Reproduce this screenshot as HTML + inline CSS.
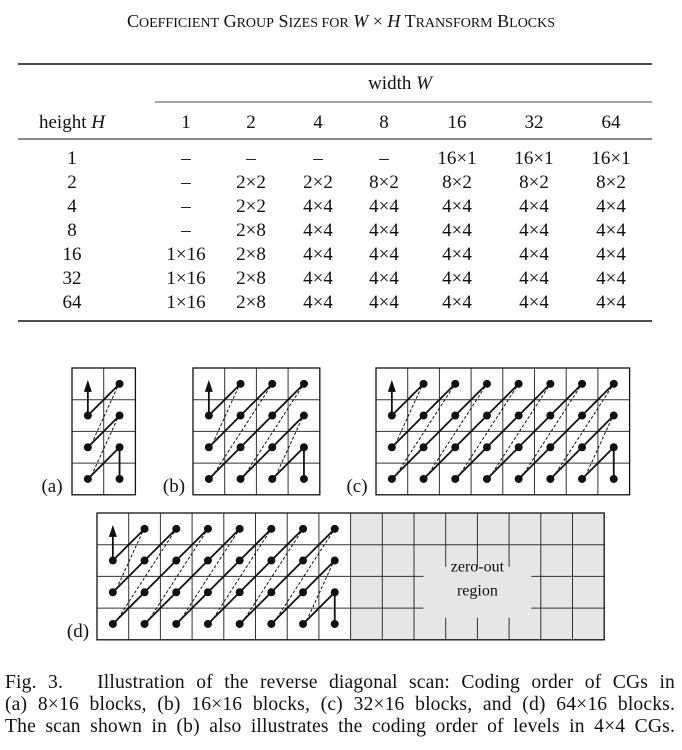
<!DOCTYPE html>
<html><head><meta charset="utf-8">
<style>
body{margin:0;background:#fff;width:682px;height:750px;overflow:hidden;font-family:"Liberation Serif",serif;}
svg{position:absolute;left:0;top:0}
.cap{position:absolute;left:5px;top:672px;width:670px;font-size:19.6px;line-height:22px;color:#111;white-space:nowrap;letter-spacing:0.15px}
.cap div{text-align:justify;text-align-last:justify;white-space:normal}
</style></head><body>
<svg id="s" width="682" height="750" font-family="Liberation Serif, serif" fill="#111">
<text x="341" y="27" text-anchor="middle" font-size="18">C<tspan font-size="14">OEFFICIENT</tspan> G<tspan font-size="14">ROUP</tspan> S<tspan font-size="14">IZES FOR</tspan> <tspan font-style="italic">W</tspan> × <tspan font-style="italic">H</tspan> T<tspan font-size="14">RANSFORM</tspan> B<tspan font-size="14">LOCKS</tspan></text>
<line x1="18" y1="64" x2="652" y2="64" stroke="#111" stroke-width="1.6"/>
<text x="400" y="89" text-anchor="middle" font-size="19">width <tspan font-style="italic">W</tspan></text>
<line x1="155" y1="102" x2="652" y2="102" stroke="#111" stroke-width="0.8"/>
<text x="72" y="128" text-anchor="middle" font-size="19">height <tspan font-style="italic">H</tspan></text>
<line x1="18" y1="139" x2="652" y2="139" stroke="#111" stroke-width="1"/>
<line x1="18" y1="321" x2="652" y2="321" stroke="#111" stroke-width="1.6"/>
<g id="tbl"></g>
<g id="figs"></g>
</svg>
<div class="cap">
<div>Fig. 3.&nbsp;&nbsp; Illustration of the reverse diagonal scan: Coding order of CGs in</div>
<div>(a) 8×16 blocks, (b) 16×16 blocks, (c) 32×16 blocks, and (d) 64×16 blocks.</div>
<div>The scan shown in (b) also illustrates the coding order of levels in 4×4 CGs.</div>
</div>
<script>
const widths=["1","2","4","8","16","32","64"];
const heights=["1","2","4","8","16","32","64"];
const cells=[
["–","–","–","–","16×1","16×1","16×1"],
["–","2×2","2×2","8×2","8×2","8×2","8×2"],
["–","2×2","4×4","4×4","4×4","4×4","4×4"],
["–","2×8","4×4","4×4","4×4","4×4","4×4"],
["1×16","2×8","4×4","4×4","4×4","4×4","4×4"],
["1×16","2×8","4×4","4×4","4×4","4×4","4×4"],
["1×16","2×8","4×4","4×4","4×4","4×4","4×4"]];
const NS="http://www.w3.org/2000/svg";
const colX=[186,251,318,384,457,534,611];
function T(p,x,y,s,name){const t=document.createElementNS(NS,'text');t.setAttribute('x',x);t.setAttribute('y',y);t.setAttribute('text-anchor','middle');t.setAttribute('font-size',19);t.textContent=s;


p.appendChild(t);return t;}
const tb=document.getElementById('tbl');
widths.forEach((w,i)=>T(tb,colX[i],128,w,'width-label'));
heights.forEach((h,r)=>{const y=164+r*24;T(tb,72,y,h,'height-label');
cells[r].forEach((c,i)=>T(tb,colX[i],y,c,'cg-size-cell'));});

const figs=[{l:"(a)",x:72,y:368,c:2,lx:52,ly:492},{l:"(b)",x:193,y:368,c:4,lx:174,ly:492},{l:"(c)",x:376,y:368,c:8,lx:357,ly:492},{l:"(d)",x:97,y:513,c:8,z:8,lx:78,ly:637}];
const g=document.getElementById('figs');
function el(tag,a,p){const e=document.createElementNS(NS,tag);for(const k in a)e.setAttribute(k,a[k]);(p||g).appendChild(e);return e;}
figs.forEach(f=>{
 const cs=31.7,R=4;const tot=f.c+(f.z||0);
 const grp=el('g',{});
 
 
 if(f.z){el('rect',{x:f.x+f.c*cs,y:f.y,width:f.z*cs,height:4*cs,fill:'#e6e6e6'},grp);}
 for(let i=1;i<tot;i++)el('line',{x1:f.x+i*cs,y1:f.y,x2:f.x+i*cs,y2:f.y+4*cs,stroke:'#333','stroke-width':1},grp);
 for(let j=1;j<4;j++)el('line',{x1:f.x,y1:f.y+j*cs,x2:f.x+tot*cs,y2:f.y+j*cs,stroke:'#333','stroke-width':1},grp);
 if(f.z){const zx=f.x+f.c*cs+2.3*cs;el('rect',{x:zx,y:f.y+1.7*cs,width:3.4*cs,height:1.6*cs,fill:'#e6e6e6'},grp);
  const t1=T(grp,f.x+(f.c+f.z/2)*cs,f.y+1.85*cs,'zero-out','zero-out-label');t1.setAttribute('font-size',16);
  const t2=T(grp,f.x+(f.c+f.z/2)*cs,f.y+2.6*cs,'region','zero-out-label');t2.setAttribute('font-size',16);}
 el('rect',{x:f.x,y:f.y,width:tot*cs,height:4*cs,fill:'none',stroke:'#111','stroke-width':1.3},grp);
 const P=(x,y)=>[f.x+(x+0.5)*cs,f.y+(y+0.5)*cs];
 const ord=[];
 for(let d=0;d<f.c+3;d++)for(let y=Math.min(d,3);y>=0;y--){const x=d-y;if(x<f.c)ord.push([x,y,d]);}
 for(let k=1;k<ord.length;k++){const a=P(ord[k-1][0],ord[k-1][1]),b=P(ord[k][0],ord[k][1]);
  const same=ord[k-1][2]==ord[k][2];const first=k==1,last=k==ord.length-1;
  if(first){el('line',{x1:b[0],y1:b[1],x2:a[0],y2:a[1]+7,stroke:'#111','stroke-width':1.8},grp);
   el('polygon',{points:`${a[0]-4},${a[1]+8} ${a[0]+4},${a[1]+8} ${a[0]},${a[1]-4}`,fill:'#111'},grp);}
  else if(same||last)el('line',{x1:a[0],y1:a[1],x2:b[0],y2:b[1],stroke:'#111','stroke-width':1.8},grp);
  else el('line',{x1:a[0]-2,y1:a[1]+3,x2:b[0]+3,y2:b[1]-2,stroke:'#111','stroke-width':1,'stroke-dasharray':'3,2'},grp);}
 ord.slice(1).forEach(o=>{const p=P(o[0],o[1]);el('circle',{cx:p[0],cy:p[1],r:R,fill:'#111'},grp);});
 const lt=T(grp,f.lx,f.ly,f.l,'panel-label');lt.setAttribute('font-size',19);
});
</script>
</body></html>
